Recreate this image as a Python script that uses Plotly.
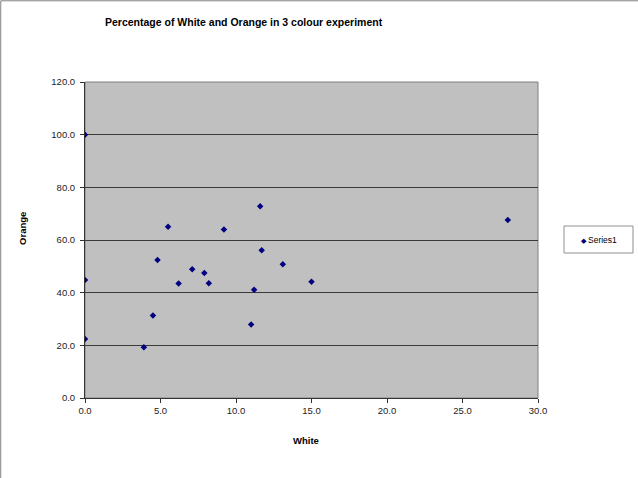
import plotly.graph_objects as go

# values
white = [0.0, 0.0, 0.0, 3.9, 4.5, 4.8, 5.5, 6.2, 7.1, 7.9, 8.2, 9.2,
         11.0, 11.2, 11.6, 11.7, 13.1, 15.0, 28.0]
orange = [100.0, 44.8, 22.4, 19.3, 31.3, 52.4, 65.0, 43.5, 48.9, 47.5, 43.6, 64.0,
          27.9, 41.1, 72.8, 56.1, 50.8, 44.1, 67.6]

title = "Percentage of White and Orange in 3 colour experiment"
series_name = "Series1"
font = "Liberation Sans, Arial, sans-serif"
navy = "#000080"

fig = go.Figure(
    go.Scatter(
        x=white,
        y=orange,
        mode="markers",
        name=series_name,
        marker={"symbol": "diamond", "size": 5, "color": navy},
    )
)

axis_common = dict(
    showline=True,
    linecolor="#333333",
    linewidth=1,
    ticks="outside",
    ticklen=4,
    tickcolor="#333333",
    tickformat=".1f",
    tickfont={"size": 9.5, "color": "#222222", "family": font},
    zeroline=False,
)

fig.update_xaxes(range=[0, 30], dtick=5, showgrid=False, **axis_common)
fig.update_yaxes(range=[0, 120], dtick=20, showgrid=True, gridcolor="#3a3a3a",
                 gridwidth=1, ticklabelstandoff=3, **axis_common)

fig.update_layout(
    width=638,
    height=478,
    margin={"l": 85, "r": 100, "t": 82, "b": 80},
    paper_bgcolor="white",
    plot_bgcolor="#c0c0c0",
    font={"family": font, "color": "#000000"},
    showlegend=False,
    shapes=[
        # grey plot-area frame (top/right)
        {"type": "rect", "xref": "paper", "yref": "paper", "x0": 0, "y0": 0,
         "x1": 1, "y1": 1, "line": {"color": "#808080", "width": 1}, "layer": "below"},
        # chart outer border visible along left and top edges
        {"type": "line", "xref": "paper", "yref": "paper", "x0": -0.186, "x1": -0.186,
         "y0": -0.3, "y1": 1.257, "line": {"color": "#808080", "width": 1}},
        {"type": "line", "xref": "paper", "yref": "paper", "x0": -0.186, "x1": 1.3,
         "y0": 1.257, "y1": 1.257, "line": {"color": "#808080", "width": 1}},
        # legend box
        {"type": "rect", "xref": "paper", "yref": "paper", "x0": 1.0574, "x1": 1.2097,
         "y0": 0.4589, "y1": 0.5443, "line": {"color": "#909090", "width": 1},
         "fillcolor": "white"},
    ],
    annotations=[
        {"text": "<b>" + title + "</b>", "xref": "paper", "yref": "paper",
         "x": 0.351, "y": 1.19, "xanchor": "center", "yanchor": "middle",
         "showarrow": False, "font": {"size": 10.5}},
        {"text": "<b>White</b>", "xref": "paper", "yref": "paper",
         "x": 0.487, "y": -0.136, "xanchor": "center", "yanchor": "middle",
         "showarrow": False, "font": {"size": 9.5}},
        {"text": "<b>Orange</b>", "xref": "paper", "yref": "paper",
         "x": -0.137, "y": 0.538, "xanchor": "center", "yanchor": "middle",
         "showarrow": False, "textangle": -90, "font": {"size": 9.5}},
        # legend entry
        {"text": "◆", "xref": "paper", "yref": "paper", "x": 1.1015, "y": 0.4985,
         "xanchor": "center", "yanchor": "middle",
         "showarrow": False, "font": {"size": 7, "color": navy}},
        {"text": series_name, "xref": "paper", "yref": "paper", "x": 1.107,
         "y": 0.4985, "xanchor": "left", "yanchor": "middle", "showarrow": False,
         "font": {"size": 8.5, "color": "#000000"}},
    ],
)

fig.write_html("out.html", config={"displayModeBar": False},
               post_script="document.body.style.margin='0';")
